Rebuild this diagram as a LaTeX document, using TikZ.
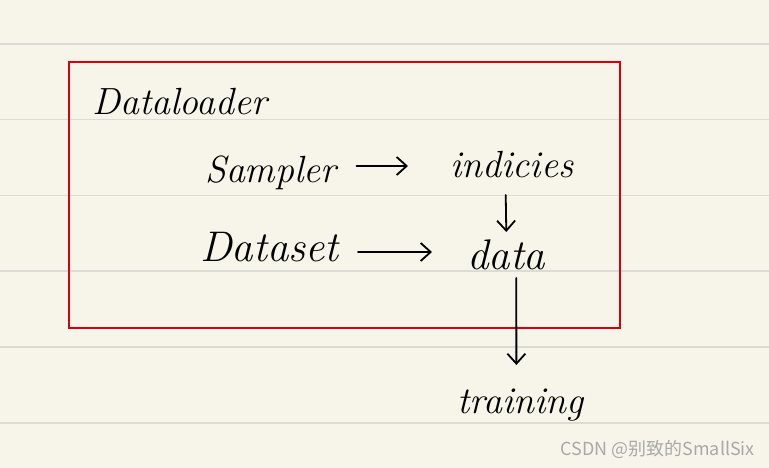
\documentclass[tikz,border=0pt]{standalone}
\usepackage{fontspec}
\newfontfamily\cjk{Noto Sans CJK SC}
\usetikzlibrary{arrows.meta,calc}
\definecolor{paper}{HTML}{F7F5EA}
\definecolor{rule}{HTML}{DCDCD6}
\definecolor{boxred}{HTML}{D8000C}
\definecolor{wm}{HTML}{A8A8A8}
\tikzset{
  hand/.style={inner sep=0pt, anchor=base west, font=\fontsize{38}{40}\selectfont\itshape},
  handbig/.style={hand, font=\fontsize{43}{45}\selectfont\itshape},
  ruleline/.style={rule, line width=1.8bp},
  frame/.style={boxred, line width=2bp},
  arr/.style={line width=1.8bp, line cap=round, -{Straight Barb[length=10bp,width=18bp,line width=1.8bp]}}
}
\begin{document}
\begin{tikzpicture}[x=1bp,y=-1bp]
\fill[paper] (0,0) rectangle (769,468);
\useasboundingbox (0,0) rectangle (769,468);
\foreach \k in {0,...,5} {
  \draw[ruleline] (0,43.7+75.9*\k) -- (769,43.7+75.9*\k);
}
\draw[frame] (68.5,62.5) rectangle (620,328);
\node[hand] (loader) at (92,115) {Dataloader};
\node[hand] (sampler) at (205,183) {Sampler};
\node[hand] (indicies) at (450,178) {indicies};
\node[handbig] (dataset) at (200,262) {Dataset};
\node[handbig] (data) at (467,270) {data};
\node[hand] (training) at (457,413) {training};
\draw[arr] ($(sampler.base east)+(20,-17)$) -- ($(indicies.base west)+(-42,-12)$);
\draw[arr] ($(dataset.base east)+(19,-10)$) -- ($(data.base west)+(-35,-18)$);
\draw[arr] ($(indicies.base)+(-6,17)$) -- ($(data.base)+(0,-38)$);
\draw[arr] ($(data.base)+(10,8)$) -- ($(training.base)+(-4,-48)$);
\node[inner sep=0pt, anchor=south east, text=wm, font=\cjk\fontsize{18}{20}\selectfont] (wmark) at (755,459) {CSDN @别致的SmallSix};
\end{tikzpicture}
\end{document}
